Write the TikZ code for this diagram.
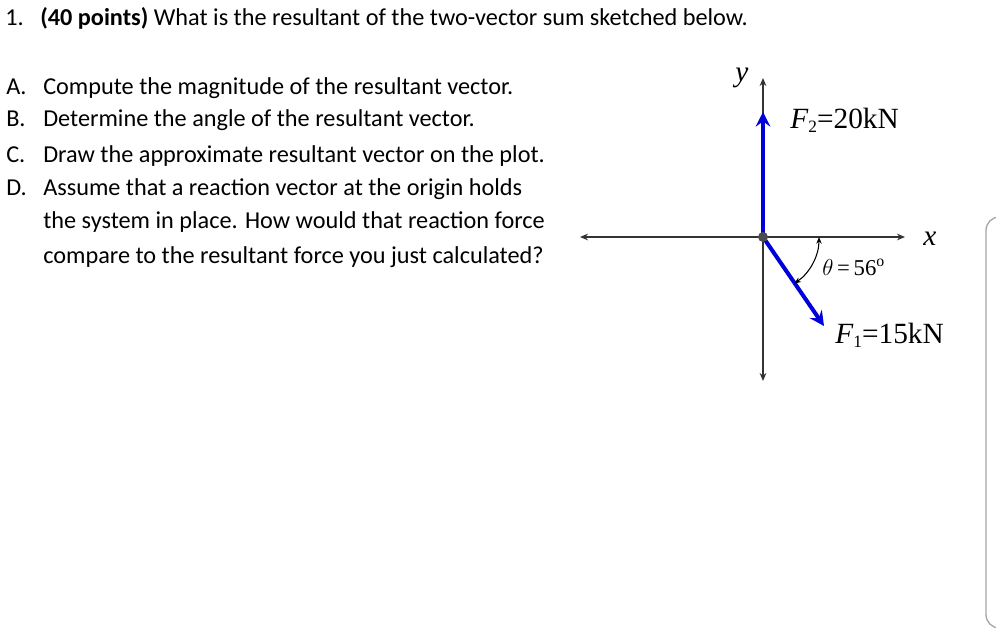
\documentclass[tikz,border=0pt]{standalone}
\usepackage{fontspec}
\setmainfont{Carlito}
\newfontfamily\tms{Liberation Serif}
\usetikzlibrary{arrows.meta,calc}
\newcommand{\lowsub}[1]{\raisebox{-0.35ex}{\fontsize{13pt}{14pt}\selectfont #1}}
\begin{document}
\begin{tikzpicture}[x=0.75pt,y=-0.75pt,
  txt/.style={anchor=base west,inner sep=0pt,font=\fontsize{18.2pt}{20pt}\selectfont},
  lbl/.style={anchor=base west,inner sep=0pt,font=\tms\fontsize{22pt}{24pt}\selectfont},
  axis/.style={draw=black!80,line width=1.1pt,-{Stealth[length=6pt,width=5pt]}},
  vec/.style={draw=blue!85!black,line width=3pt,-{Stealth[length=11pt,width=11pt,inset=4pt]}}]
\useasboundingbox (0,0) rectangle (996,635);
\begin{scope}
\clip (0,0) rectangle (996,635);
\draw[black!35,line width=1pt,rounded corners=10pt] (986,217) rectangle (1020,628);
\end{scope}
\node[txt] (t0) at (5,26) {1.};
\node[txt] (t1) at (40,26) {\textbf{(40 points)} What is the resultant of the two-vector sum sketched below.};
\node[txt] (a) at (6,94) {A.};\node[txt] (at) at (43,94) {Compute the magnitude of the resultant vector.};
\node[txt] (b) at (6,127) {B.};\node[txt] (bt) at (43,127) {Determine the angle of the resultant vector.};
\node[txt] (c) at (6,162) {C.};\node[txt] (ct) at (43,162) {Draw the approximate resultant vector on the plot.};
\node[txt] (d) at (6,195) {D.};\node[txt] (dt) at (43,195) {Assume that a reaction vector at the origin holds};
\node[txt] (et) at (43,228) {the system in place. How would that reaction force};
\node[txt] (ft) at (43,263) {compare to the resultant force you just calculated?};
\coordinate (O) at (763,237);
\coordinate (xl) at (580,237);\coordinate (xr) at (905,237);
\coordinate (yt) at (763,78);\coordinate (yb) at (763,381);
\draw[axis] (O) -- (xl);\draw[axis] (O) -- (xr);
\draw[axis] (O) -- (yt);\draw[axis] (O) -- (yb);
\coordinate (F2) at (763,112);\coordinate (F1) at (824,326);
\draw[vec] (O) -- (F2);
\draw[vec] (O) -- (F1);
\fill[black!70] (O) circle (5);
\draw[black,line width=0.8pt,{Stealth[length=5pt,width=4pt]}-{Stealth[length=5pt,width=4pt]}] ($(O)+(56,0)$) arc[start angle=0,end angle=56,radius=56];
\node[lbl] (ly) at (735,82) {\textit{y}};
\node[lbl] (lx) at (923,245) {\textit{x}};
\node[lbl] (l2) at (790,128) {\textit{F}\lowsub{2}=20kN};
\node[lbl] (l1) at (835,343) {\textit{F}\lowsub{1}=15kN};
\node[lbl,font=\tms\fontsize{17pt}{19pt}\selectfont] (lt) at (822,275) {$\theta$\,=\,56\textsuperscript{o}};
\end{tikzpicture}
\end{document}
